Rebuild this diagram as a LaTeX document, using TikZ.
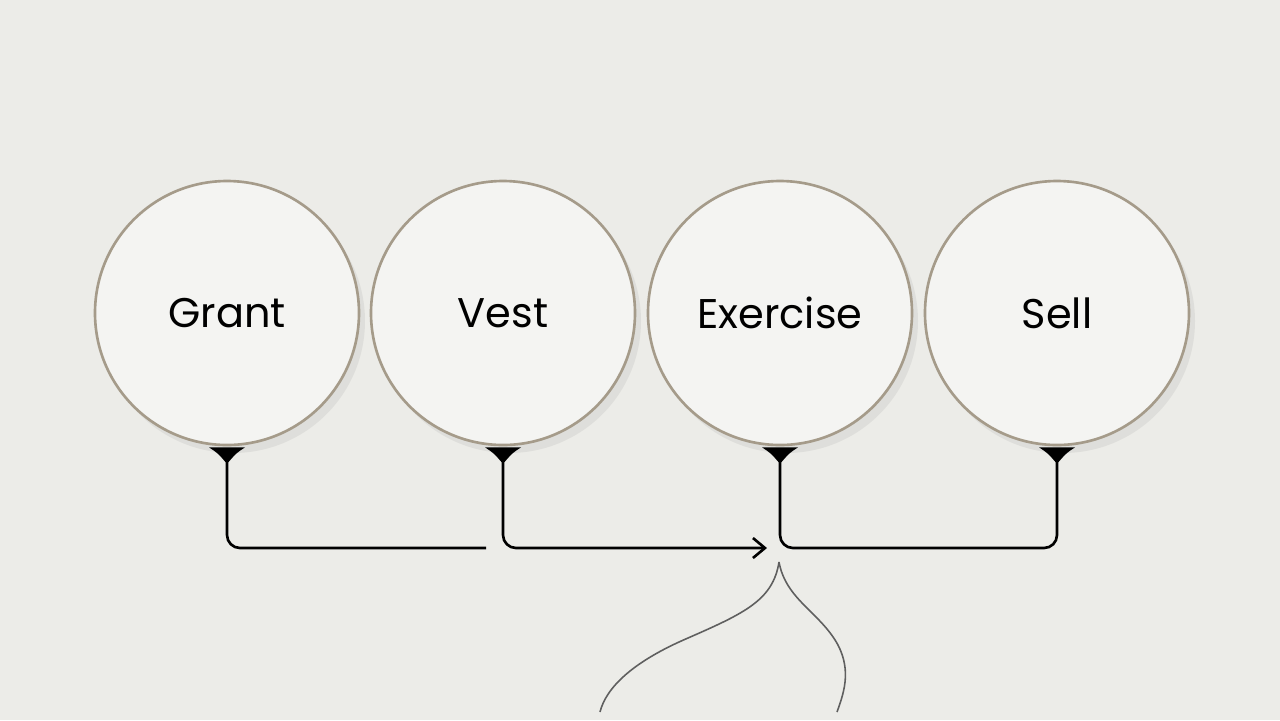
\documentclass[tikz,border=0pt]{standalone}
\usepackage{fontspec}
\setmainfont{Poppins}
\usetikzlibrary{arrows.meta,shadows}
\definecolor{bgcol}{RGB}{236,236,232}
\definecolor{discfill}{RGB}{244,244,242}
\definecolor{rimcol}{RGB}{165,155,138}
\definecolor{forkcol}{RGB}{95,95,95}
\begin{document}
\begin{tikzpicture}[x=0.1mm, y=-0.1mm,
  stage/.style={circle, draw=rimcol, line width=0.75pt, fill=discfill,
    minimum size=26.4mm, inner sep=0pt,
    font=\fontsize{11.8}{14}\selectfont,
    drop shadow={opacity=0.12, shadow xshift=0.6mm, shadow yshift=-0.8mm}},
  link/.style={draw=black, line width=0.75pt, rounded corners=1.3mm},
  fork/.style={draw=forkcol, line width=0.45pt}]
\fill[bgcol] (0,0) rectangle (1280,720);
% the four stages
\node [stage] (grant) at (227,313) {Grant};
\node [stage] (vest) at (503,313) {Vest};
\node [stage] (exercise) at (780,313) {Exercise};
\node [stage] (sell) at (1057,313) {Sell};
% little funnels under each stage
\foreach \s in {grant,vest,exercise,sell} {
  \fill ([xshift=-1.8mm,yshift=-0.1mm]\s.south)
    .. controls ([xshift=-0.9mm,yshift=-0.7mm]\s.south) .. ([yshift=-1.75mm]\s.south)
    .. controls ([xshift=0.9mm,yshift=-0.7mm]\s.south) .. ([xshift=1.8mm,yshift=-0.1mm]\s.south)
    -- cycle;
  \coordinate (\s-tip) at ([yshift=-1.6mm]\s.south);
}
\coordinate (grant-end) at (486,548);
\coordinate (vest-end) at (767,548);
\coordinate (fork) at (779,562);
% connectors
\draw [link] (grant-tip) |- (grant-end);
\draw [link, -{Straight Barb[length=1.2mm, width=2mm, line width=0.75pt]}] (vest-tip) |- (vest-end);
\draw [link] (exercise-tip) -- (exercise-tip |- grant-end) -| (sell-tip);
% the fork below
\draw [fork] (fork) .. controls (773,600) and (745,613) .. (688,638)
  .. controls (632,662) and (606,688) .. (600,712);
\draw [fork] (fork) .. controls (786,600) and (820,612) .. (838,645)
  .. controls (852,672) and (843,695) .. (837,712);
\end{tikzpicture}
\end{document}
